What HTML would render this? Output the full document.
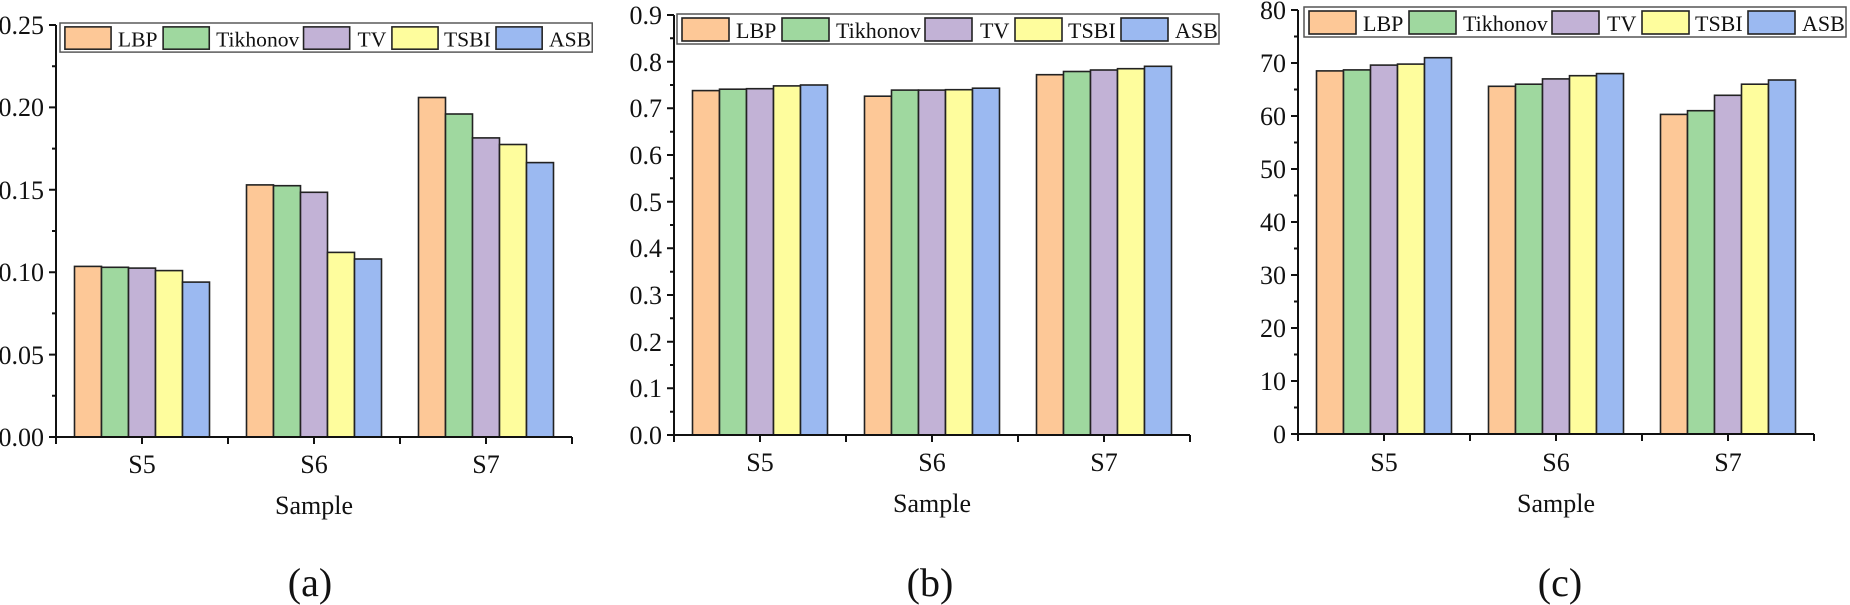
<!DOCTYPE html>
<html><head><meta charset="utf-8"><style>
html,body{margin:0;padding:0;background:#fff}
svg{display:block}
text{font-family:"Liberation Serif",serif;fill:#111}
.t{font-size:26px}
.l{font-size:22px}
.ax{stroke:#111;stroke-width:2;fill:none}
.b{stroke:#222;stroke-width:1.6}
.o{fill:#FDC897}.g{fill:#9FD89F}.p{fill:#C2B2D6}.y{fill:#FEFD9D}.u{fill:#9BB9F1}
</style></head><body>
<svg width="1850" height="605" viewBox="0 0 1850 605" xmlns="http://www.w3.org/2000/svg">
<defs>
<g id="leg">
<rect x="0" y="0" width="542" height="30" fill="#fff" stroke="#555" stroke-width="1.5"/>
<rect class="o b" x="5" y="4" width="47" height="23"/><text class="l" x="59" y="24">LBP</text>
<rect class="g b" x="105" y="4" width="47" height="23"/><text class="l" x="159" y="24">Tikhonov</text>
<rect class="p b" x="248" y="4" width="47" height="23"/><text class="l" x="303" y="24">TV</text>
<rect class="y b" x="338" y="4" width="47" height="23"/><text class="l" x="391" y="24">TSBI</text>
<rect class="u b" x="444" y="4" width="47" height="23"/><text class="l" x="498" y="24">ASB</text>
</g>
</defs>

<!-- Panel a -->
<g>
<rect class="o b" x="74.5" y="266.4" width="27" height="170.6"/>
<rect class="g b" x="101.5" y="267.3" width="27" height="169.7"/>
<rect class="p b" x="128.5" y="268.1" width="27" height="168.9"/>
<rect class="y b" x="155.5" y="270.6" width="27" height="166.4"/>
<rect class="u b" x="182.5" y="282.1" width="27" height="154.9"/>
<rect class="o b" x="246.5" y="184.9" width="27" height="252.1"/>
<rect class="g b" x="273.5" y="185.7" width="27" height="251.3"/>
<rect class="p b" x="300.5" y="192.3" width="27" height="244.7"/>
<rect class="y b" x="327.5" y="252.4" width="27" height="184.6"/>
<rect class="u b" x="354.5" y="259" width="27" height="178"/>
<rect class="o b" x="418.5" y="97.5" width="27" height="339.5"/>
<rect class="g b" x="445.5" y="114" width="27" height="323"/>
<rect class="p b" x="472.5" y="137.9" width="27" height="299.1"/>
<rect class="y b" x="499.5" y="144.5" width="27" height="292.5"/>
<rect class="u b" x="526.5" y="162.6" width="27" height="274.4"/>
<path class="ax" d="M56 25V437H572 M49 437H56 M49 354.6H56 M49 272.2H56 M49 189.8H56 M49 107.4H56 M49 25H56 M52 395.8H56 M52 313.4H56 M52 231H56 M52 148.6H56 M52 66.2H56 M56 437V444 M142 437V444 M228 437V444 M314 437V444 M400 437V444 M486 437V444 M572 437V444"/>
<g class="t" text-anchor="end">
<text x="44" y="446">0.00</text><text x="44" y="364">0.05</text><text x="44" y="281">0.10</text><text x="44" y="199">0.15</text><text x="44" y="116">0.20</text><text x="44" y="34">0.25</text>
</g>
<g class="t" text-anchor="middle">
<text x="142" y="473">S5</text><text x="314" y="473">S6</text><text x="486" y="473">S7</text>
<text x="314" y="514">Sample</text>
<text x="310" y="596" style="font-size:40px">(a)</text>
</g>
<use href="#leg" transform="translate(60,23) scale(0.982,0.97)"/>
</g>

<!-- Panel b -->
<g>
<rect class="o b" x="692.5" y="90.6" width="27" height="344.4"/>
<rect class="g b" x="719.5" y="89.2" width="27" height="345.8"/>
<rect class="p b" x="746.5" y="88.7" width="27" height="346.3"/>
<rect class="y b" x="773.5" y="85.9" width="27" height="349.1"/>
<rect class="u b" x="800.5" y="85" width="27" height="350"/>
<rect class="o b" x="864.5" y="96.2" width="27" height="338.8"/>
<rect class="g b" x="891.5" y="90.1" width="27" height="344.9"/>
<rect class="p b" x="918.5" y="90.1" width="27" height="344.9"/>
<rect class="y b" x="945.5" y="89.7" width="27" height="345.3"/>
<rect class="u b" x="972.5" y="88.2" width="27" height="346.8"/>
<rect class="o b" x="1036.5" y="74.7" width="27" height="360.3"/>
<rect class="g b" x="1063.5" y="71.5" width="27" height="363.5"/>
<rect class="p b" x="1090.5" y="70" width="27" height="365"/>
<rect class="y b" x="1117.5" y="68.7" width="27" height="366.3"/>
<rect class="u b" x="1144.5" y="66.3" width="27" height="368.7"/>
<path class="ax" d="M674 15V435H1190 M667 435H674 M667 388.3H674 M667 341.7H674 M667 295H674 M667 248.3H674 M667 201.7H674 M667 155H674 M667 108.3H674 M667 61.7H674 M667 15H674 M670 411.7H674 M670 365H674 M670 318.3H674 M670 271.7H674 M670 225H674 M670 178.3H674 M670 131.7H674 M670 85H674 M670 38.3H674 M674 435V442 M760 435V442 M846 435V442 M932 435V442 M1018 435V442 M1104 435V442 M1190 435V442"/>
<g class="t" text-anchor="end">
<text x="662" y="444">0.0</text><text x="662" y="397">0.1</text><text x="662" y="351">0.2</text><text x="662" y="304">0.3</text><text x="662" y="257">0.4</text><text x="662" y="211">0.5</text><text x="662" y="164">0.6</text><text x="662" y="117">0.7</text><text x="662" y="71">0.8</text><text x="662" y="24">0.9</text>
</g>
<g class="t" text-anchor="middle">
<text x="760" y="471">S5</text><text x="932" y="471">S6</text><text x="1104" y="471">S7</text>
<text x="932" y="512">Sample</text>
<text x="930" y="596" style="font-size:40px">(b)</text>
</g>
<use href="#leg" transform="translate(677,14)"/>
</g>

<!-- Panel c -->
<g>
<rect class="o b" x="1316.5" y="70.9" width="27" height="363.1"/>
<rect class="g b" x="1343.5" y="69.9" width="27" height="364.1"/>
<rect class="p b" x="1370.5" y="65.1" width="27" height="368.9"/>
<rect class="y b" x="1397.5" y="64.1" width="27" height="369.9"/>
<rect class="u b" x="1424.5" y="57.7" width="27" height="376.3"/>
<rect class="o b" x="1488.5" y="86.3" width="27" height="347.7"/>
<rect class="g b" x="1515.5" y="84.2" width="27" height="349.8"/>
<rect class="p b" x="1542.5" y="78.9" width="27" height="355.1"/>
<rect class="y b" x="1569.5" y="75.7" width="27" height="358.3"/>
<rect class="u b" x="1596.5" y="73.6" width="27" height="360.4"/>
<rect class="o b" x="1660.5" y="114.4" width="27" height="319.6"/>
<rect class="g b" x="1687.5" y="110.7" width="27" height="323.3"/>
<rect class="p b" x="1714.5" y="95.3" width="27" height="338.7"/>
<rect class="y b" x="1741.5" y="84.2" width="27" height="349.8"/>
<rect class="u b" x="1768.5" y="80" width="27" height="354"/>
<path class="ax" d="M1298 10V434H1814 M1291 434H1298 M1291 381H1298 M1291 328H1298 M1291 275H1298 M1291 222H1298 M1291 169H1298 M1291 116H1298 M1291 63H1298 M1291 10H1298 M1294 407.5H1298 M1294 354.5H1298 M1294 301.5H1298 M1294 248.5H1298 M1294 195.5H1298 M1294 142.5H1298 M1294 89.5H1298 M1294 36.5H1298 M1298 434V441 M1384 434V441 M1470 434V441 M1556 434V441 M1642 434V441 M1728 434V441 M1814 434V441"/>
<g class="t" text-anchor="end">
<text x="1286" y="443">0</text><text x="1286" y="390">10</text><text x="1286" y="337">20</text><text x="1286" y="284">30</text><text x="1286" y="231">40</text><text x="1286" y="178">50</text><text x="1286" y="125">60</text><text x="1286" y="72">70</text><text x="1286" y="19">80</text>
</g>
<g class="t" text-anchor="middle">
<text x="1384" y="471">S5</text><text x="1556" y="471">S6</text><text x="1728" y="471">S7</text>
<text x="1556" y="512">Sample</text>
<text x="1560" y="596" style="font-size:40px">(c)</text>
</g>
<use href="#leg" transform="translate(1304,7)"/>
</g>
</svg>
</body></html>
